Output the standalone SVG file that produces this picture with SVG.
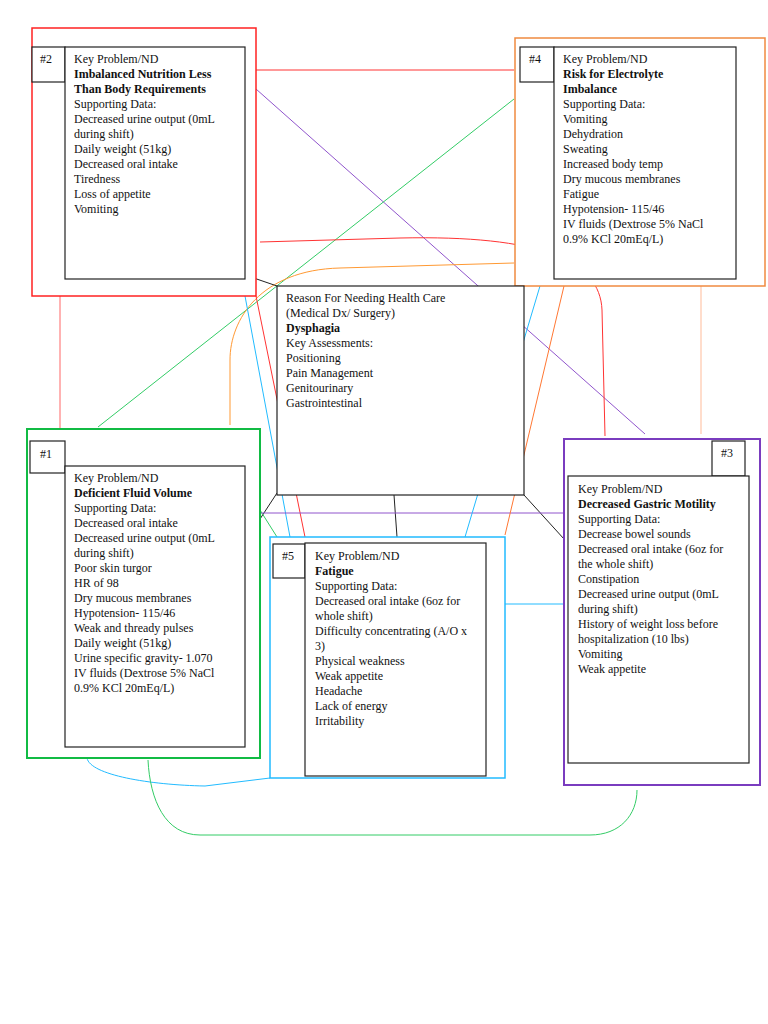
<svg xmlns="http://www.w3.org/2000/svg" width="768" height="1024" viewBox="0 0 768 1024">
<style>
text{font-family:"Liberation Serif","Times New Roman",serif;font-size:12px;fill:#111}
.b{font-weight:bold}
.box{fill:#fff;stroke:#222;stroke-width:1.2}
.c{fill:none;stroke-width:1}
</style>
<rect width="768" height="1024" fill="#fff"/>
<g id="connectors">
<line class="c" stroke="#f33" x1="256" y1="70" x2="514" y2="70"/>
<line class="c" stroke="#9055cc" x1="256" y1="89" x2="645" y2="434"/>
<line class="c" stroke="#3c6" x1="98" y1="427" x2="514" y2="99"/>
<path class="c" stroke="#f33" d="M260,242 L400,238 C540,235 600,260 602,310 L605,436"/>
<path class="c" stroke="#f93" d="M514,263 L340,268 C260,270 230,320 230,360 L230,425"/>
<line class="c" stroke="#222" x1="245" y1="275" x2="277" y2="286"/>
<line class="c" stroke="#222" x1="554" y1="275" x2="520" y2="286"/>
<line class="c" stroke="#222" x1="277" y1="493" x2="245" y2="542"/>
<line class="c" stroke="#222" x1="394" y1="495" x2="397" y2="537"/>
<line class="c" stroke="#222" x1="524" y1="495" x2="564" y2="539"/>
<line class="c" stroke="#f66" x1="60" y1="296" x2="60" y2="429"/>
<line class="c" stroke="#fb9" x1="701" y1="286" x2="701" y2="434"/>
<line class="c" stroke="#2bf" x1="245" y1="296" x2="290" y2="537"/>
<line class="c" stroke="#f33" x1="256" y1="296" x2="305" y2="537"/>
<line class="c" stroke="#3c6" x1="260" y1="510" x2="277" y2="537"/>
<line class="c" stroke="#9055cc" x1="260" y1="513" x2="564" y2="513"/>
<line class="c" stroke="#2bf" x1="540" y1="286" x2="465" y2="537"/>
<line class="c" stroke="#f73" x1="564" y1="286" x2="505" y2="535"/>
<line class="c" stroke="#2bf" x1="505" y1="604" x2="564" y2="604"/>
<path class="c" stroke="#2bf" d="M87,758 C90,775 150,785 205,786 L270,778"/>
<path class="c" stroke="#3c6" d="M148,760 C150,800 165,835 200,835 L590,835 C620,835 637,815 637,790"/>
</g>
<g id="node2">
<rect x="32" y="28" width="224" height="268" fill="#fff" stroke="#f22" stroke-width="1.5"/>
<rect class="box" x="32" y="47" width="33" height="35"/>
<rect class="box" x="65" y="47" width="180" height="232"/>
<text x="40" y="63">#2</text>
<text x="74" y="63">Key Problem/ND</text>
<text class="b" x="74" y="78">Imbalanced Nutrition Less</text>
<text class="b" x="74" y="93">Than Body Requirements</text>
<text x="74" y="108">Supporting Data:</text>
<text x="74" y="123">Decreased urine output (0mL</text>
<text x="74" y="138">during shift)</text>
<text x="74" y="153">Daily weight (51kg)</text>
<text x="74" y="168">Decreased oral intake</text>
<text x="74" y="183">Tiredness</text>
<text x="74" y="198">Loss of appetite</text>
<text x="74" y="213">Vomiting</text>
</g>
<g id="node4">
<rect x="515" y="38" width="250" height="248" fill="#fff" stroke="#f08a40" stroke-width="1.5"/>
<rect class="box" x="520" y="47" width="34" height="35"/>
<rect class="box" x="554" y="47" width="182" height="232"/>
<text x="529" y="63">#4</text>
<text x="563" y="63">Key Problem/ND</text>
<text class="b" x="563" y="78">Risk for Electrolyte</text>
<text class="b" x="563" y="93">Imbalance</text>
<text x="563" y="108">Supporting Data:</text>
<text x="563" y="123">Vomiting</text>
<text x="563" y="138">Dehydration</text>
<text x="563" y="153">Sweating</text>
<text x="563" y="168">Increased body temp</text>
<text x="563" y="183">Dry mucous membranes</text>
<text x="563" y="198">Fatigue</text>
<text x="563" y="213">Hypotension- 115/46</text>
<text x="563" y="228">IV fluids (Dextrose 5% NaCl</text>
<text x="563" y="243">0.9% KCl 20mEq/L)</text>
</g>
<g id="center">
<rect class="box" x="277" y="286" width="247" height="209"/>
<text x="286" y="302">Reason For Needing Health Care</text>
<text x="286" y="317">(Medical Dx/ Surgery)</text>
<text class="b" x="286" y="332">Dysphagia</text>
<text x="286" y="347">Key Assessments:</text>
<text x="286" y="362">Positioning</text>
<text x="286" y="377">Pain Management</text>
<text x="286" y="392">Genitourinary</text>
<text x="286" y="407">Gastrointestinal</text>
</g>
<g id="node1">
<rect x="27" y="429" width="233" height="329" fill="#fff" stroke="#1b4" stroke-width="2"/>
<rect class="box" x="30" y="441" width="35" height="32"/>
<rect class="box" x="65" y="466" width="180" height="281"/>
<text x="40" y="458">#1</text>
<text x="74" y="482">Key Problem/ND</text>
<text class="b" x="74" y="497">Deficient Fluid Volume</text>
<text x="74" y="512">Supporting Data:</text>
<text x="74" y="527">Decreased oral intake</text>
<text x="74" y="542">Decreased urine output (0mL</text>
<text x="74" y="557">during shift)</text>
<text x="74" y="572">Poor skin turgor</text>
<text x="74" y="587">HR of 98</text>
<text x="74" y="602">Dry mucous membranes</text>
<text x="74" y="617">Hypotension- 115/46</text>
<text x="74" y="632">Weak and thready pulses</text>
<text x="74" y="647">Daily weight (51kg)</text>
<text x="74" y="662">Urine specific gravity- 1.070</text>
<text x="74" y="677">IV fluids (Dextrose 5% NaCl</text>
<text x="74" y="692">0.9% KCl 20mEq/L)</text>
</g>
<g id="node5">
<rect x="270" y="537" width="235" height="241" fill="#fff" stroke="#2bf" stroke-width="1.5"/>
<rect class="box" x="273" y="544" width="32" height="34"/>
<rect class="box" x="305" y="543" width="181" height="233"/>
<text x="282" y="560">#5</text>
<text x="315" y="560">Key Problem/ND</text>
<text class="b" x="315" y="575">Fatigue</text>
<text x="315" y="590">Supporting Data:</text>
<text x="315" y="605">Decreased oral intake (6oz for</text>
<text x="315" y="620">whole shift)</text>
<text x="315" y="635">Difficulty concentrating (A/O x</text>
<text x="315" y="650">3)</text>
<text x="315" y="665">Physical weakness</text>
<text x="315" y="680">Weak appetite</text>
<text x="315" y="695">Headache</text>
<text x="315" y="710">Lack of energy</text>
<text x="315" y="725">Irritability</text>
</g>
<g id="node3">
<rect x="564" y="439" width="196" height="346" fill="#fff" stroke="#7a3cbf" stroke-width="2"/>
<rect class="box" x="712" y="441" width="33" height="35"/>
<rect class="box" x="568" y="476" width="181" height="287"/>
<text x="721" y="457">#3</text>
<text x="578" y="493">Key Problem/ND</text>
<text class="b" x="578" y="508">Decreased Gastric Motility</text>
<text x="578" y="523">Supporting Data:</text>
<text x="578" y="538">Decrease bowel sounds</text>
<text x="578" y="553">Decreased oral intake (6oz for</text>
<text x="578" y="568">the whole shift)</text>
<text x="578" y="583">Constipation</text>
<text x="578" y="598">Decreased urine output (0mL</text>
<text x="578" y="613">during shift)</text>
<text x="578" y="628">History of weight loss before</text>
<text x="578" y="643">hospitalization (10 lbs)</text>
<text x="578" y="658">Vomiting</text>
<text x="578" y="673">Weak appetite</text>
</g>
</svg>
